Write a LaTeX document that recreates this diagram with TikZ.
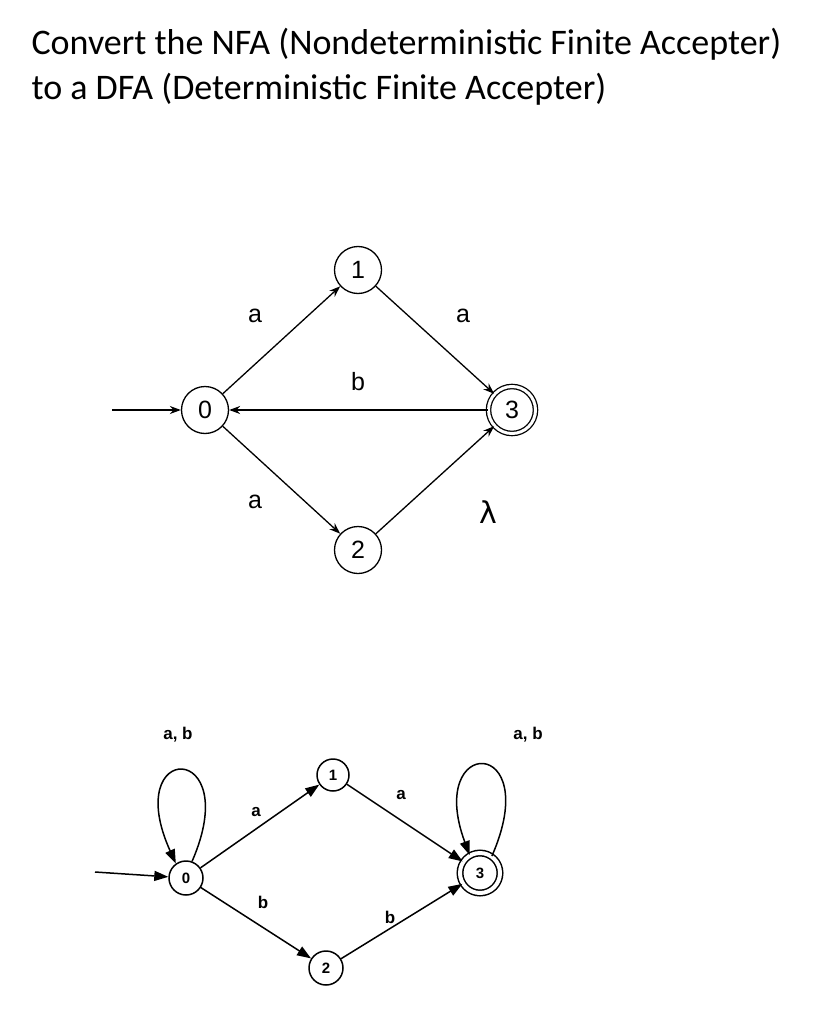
\documentclass[tikz,border=0pt]{standalone}
\usepackage{fontspec}
\setmainfont{Carlito}
\newfontfamily\arial{Liberation Sans}
\newfontfamily\djvfont{DejaVu Sans}
\usetikzlibrary{arrows.meta}
\begin{document}
\begin{tikzpicture}[x=1pt,y=-1pt,
 st/.style={circle,draw,line width=1.3pt,minimum size=47pt,inner sep=0pt,font=\arial\fontsize{25}{25}\selectfont},
 acc/.style={st,double,double distance=3pt},
 tr/.style={-{Stealth[length=11pt,width=8pt]},line width=1.3pt},
 lb/.style={font=\arial\fontsize{25}{25}\selectfont},
 sb/.style={circle,draw,line width=1.5pt,minimum size=34pt,inner sep=0pt,font=\arial\bfseries\fontsize{15}{15}\selectfont},
 sacc/.style={sb,double,double distance=4pt,minimum size=40pt},
 tb/.style={-{Triangle[length=14pt,width=10pt]},line width=1.5pt},
 bl/.style={font=\arial\bfseries\fontsize{17}{17}\selectfont}]
\useasboundingbox (0,0) rectangle (827,1024);
\node[anchor=base west,font=\fontsize{36}{36}\selectfont] (t1) at (28,55) {Convert the NFA (Nondeterministic Finite Accepter)};
\node[anchor=base west,font=\fontsize{36}{36}\selectfont] (t2) at (28,100) {to a DFA (Deterministic Finite Accepter)};
% NFA
\node[st] (n0) at (205,410) {0};
\node[st] (n1) at (358,270) {1};
\node[st] (n2) at (358,550) {2};
\node[acc] (n3) at (512,410) {3};
\coordinate (s0) at (112,410);
\draw[tr] (s0) -- (n0);
\draw[tr] (n0) -- (n1);
\draw[tr] (n1) -- (n3);
\draw[tr] (n3) -- (n0);
\draw[tr] (n0) -- (n2);
\draw[tr] (n2) -- (n3);
\node[lb] (la1) at (255,316) {a};
\node[lb] (la2) at (463,316) {a};
\node[lb] (lb1) at (358,382) {b};
\node[lb] (la3) at (255,502) {a};
\node[font=\djvfont\fontsize{30}{30}\selectfont] (lam) at (488,512) {λ};
% DFA
\node[sb] (d0) at (186,878) {0};
\node[sb,minimum size=32pt] (d1) at (333,775) {1};
\node[sb] (d2) at (326,968) {2};
\node[sacc] (d3) at (480,873) {3};
\coordinate (s1) at (95,872);
\draw[tb] (s1) -- (d0);
\draw[tb] (d0) -- (d1);
\draw[tb] (d1) -- (d3);
\draw[tb] (d0) -- (d2);
\draw[tb] (d2) -- (d3);
\node[bl] (e1) at (256,812) {a};
\node[bl] (e2) at (401,795) {a};
\node[bl] (e3) at (263,902) {b};
\node[bl] (e4) at (390,917) {b};
\draw[tb] (d0.70) .. controls (245,740) and (120,740) .. (d0.125);
\draw[tb] (d3.55) .. controls (545,735) and (425,735) .. (d3.120);
\node[bl] (l0) at (178,735) {a, b};
\node[bl] (l3) at (528,735) {a, b};
\end{tikzpicture}
\end{document}
